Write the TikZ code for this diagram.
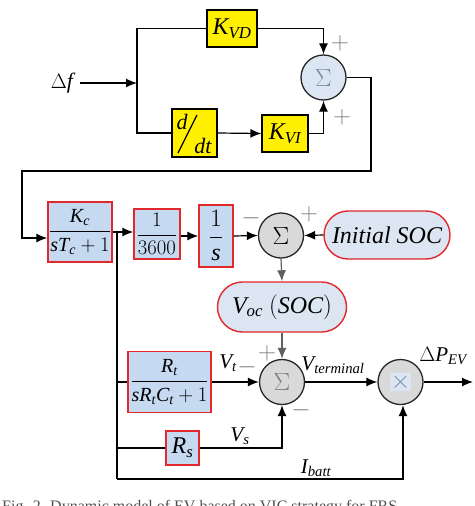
\documentclass[tikz,border=0pt]{standalone}
\usepackage{amsmath}
\usepackage{fontspec}
\setmainfont{Liberation Serif}
\DeclareSymbolFont{tletters}{TU}{\rmdefault}{m}{it}
\DeclareSymbolFont{tdigits}{TU}{\rmdefault}{m}{n}
\makeatletter
\@tfor\mych:=abcdefghijklmnopqrstuvwxyzABCDEFGHIJKLMNOPQRSTUVWXYZ\do{%
  \edef\mydo{\noexpand\DeclareMathSymbol{\mych}{\noexpand\mathalpha}{tletters}{`\mych}}\mydo}
\@tfor\mych:=0123456789\do{%
  \edef\mydo{\noexpand\DeclareMathSymbol{\mych}{\noexpand\mathalpha}{tdigits}{`\mych}}\mydo}
\makeatother
\usetikzlibrary{arrows.meta,shapes.misc}
\definecolor{ylw}{RGB}{255,240,0}
\definecolor{bfill}{RGB}{197,217,241}
\definecolor{rbord}{RGB}{224,40,45}
\definecolor{lblue}{RGB}{220,230,242}
\definecolor{cgrey}{RGB}{217,217,217}
\definecolor{sgn}{RGB}{125,125,125}
\definecolor{sigblue}{RGB}{120,140,170}
\definecolor{arrgrey}{RGB}{95,95,95}
\definecolor{capgrey}{RGB}{80,80,80}
\begin{document}
\begin{tikzpicture}[x=1pt,y=-1pt,
  >={Latex[length=11pt,width=9pt]},
  conn/.style={draw=black,line width=1.2pt},
  gconn/.style={draw=arrgrey,line width=1.2pt},
  ybox/.style={draw=black,line width=1.1pt,fill=ylw,inner sep=0pt,font=\fontsize{24}{28}\selectfont},
  bbox/.style={draw=rbord,line width=1.4pt,fill=bfill,inner sep=0pt,font=\fontsize{20}{24}\selectfont},
  term/.style={rounded rectangle,draw=rbord,line width=1.4pt,fill=lblue,inner sep=0pt,font=\fontsize{24}{28}\selectfont},
  sumc/.style={circle,draw=black!85,line width=1.3pt,minimum size=45pt,inner sep=0pt,font=\fontsize{26}{30}\selectfont},
  lbl/.style={inner sep=0pt,font=\fontsize{21}{25}\selectfont},
  sgnl/.style={inner sep=0pt,text=sgn,font=\fontsize{24}{28}\selectfont},
]
\useasboundingbox (0,0) rectangle (474,506);
\begin{scope}
\clip (0,0) rectangle (474,506);
% ---------- top part ----------
\node[ybox,minimum width=50pt,minimum height=37pt] (kvd) at (232,28.5) {$K_{VD}$};
\node[ybox,minimum width=45pt,minimum height=48pt] (ddt) at (194.5,133) {};
\node[inner sep=0pt,font=\fontsize{22}{26}\selectfont] (dtop) at (182,122) {$d$};
\node[inner sep=0pt,font=\fontsize{22}{26}\selectfont] (dbot) at (203,146) {$dt$};
\draw[line width=1.3pt] (178,153) -- (197,115);
\node[ybox,minimum width=46pt,minimum height=37pt] (kvi) at (285,133.5) {$K_{VI}$};
\node[sumc,fill=lblue,text=sigblue] (s1) at (323.5,77.5) {$\Sigma$};
\node[lbl,font=\fontsize{22}{26}\selectfont] (df) at (62,83) {$\Delta f$};
\coordinate (din) at (80,83);
\coordinate (jf) at (137,83);
\coordinate (r1) at (371,171);
\coordinate (l1) at (22,171);
\coordinate (l2) at (22,238);
\node[sgnl] (p1) at (340,43) {$+$};
\node[sgnl] (p2) at (342,117) {$+$};
\draw[conn,->] (din) -- (jf);
\draw[conn] (kvd.west) -| (jf) |- (ddt.west);
\draw[conn,->] (kvd.east) -| (s1.north);
\draw[conn,->] (ddt.east) -- (kvi.west);
\draw[conn,->] (kvi.east) -| (s1.south);
% ---------- middle part ----------
\node[bbox,minimum width=64pt,minimum height=60pt] (kc) at (80,232) {$\dfrac{K_c}{sT_c+1}$};
\node[bbox,minimum width=46pt,minimum height=50pt] (k36) at (157,234) {$\dfrac{1}{3600}$};
\node[bbox,minimum width=34pt,minimum height=62pt,font=\fontsize{24}{28}\selectfont] (ins) at (216,236) {$\dfrac{1}{s}$};
\node[sumc,fill=cgrey,text=black] (s2) at (281,235.5) {$\Sigma$};
\node[term,minimum width=126pt,minimum height=48pt] (isoc) at (387,235) {\itshape Initial SOC};
\node[term,minimum width=129pt,minimum height=50pt] (voc) at (282,307) {$V_{oc}\ (SOC)$};
\node[sgnl] (m0) at (251,218) {$-$};
\node[sgnl] (p0) at (309,214) {$+$};
\draw[conn,->] (s1.east) -| (r1) -- (l1) -- (l2) -- (l2 -| kc.west);
\draw[conn,->] (kc.east) -- (kc.east -| k36.west);
\draw[conn,->] (k36.east |- ins.west) -- (ins.west);
\draw[conn,->] (ins.east) -- (s2.west);
\draw[conn,->] (isoc.west) -- (s2.east);
\draw[gconn,->] (s2.south) -- (voc.north);
% ---------- bottom part ----------
\node[bbox,minimum width=83pt,minimum height=61pt] (rt) at (169.5,382) {$\dfrac{R_t}{sR_tC_t+1}$};
\node[sumc,fill=cgrey,text=sgn] (s3) at (282,382) {$\Sigma$};
\node[sumc,fill=cgrey,font=\fontsize{24}{28}\selectfont] (mul) at (400.5,382) {\setlength{\fboxsep}{1pt}\colorbox{lblue}{\color{sigblue}$\times$}};
\node[bbox,minimum width=33pt,minimum height=34pt,font=\fontsize{24}{28}\selectfont] (rs) at (182.5,448) {$R_s$};
\coordinate (b1) at (117,232);
\coordinate (bl) at (117,479);
\coordinate (pout) at (473,382);
\draw[gconn,->] (voc.south) -- (s3.north);
\draw[conn] (b1) -- (bl);
\draw[conn,->] (bl) -| ([xshift=2.5pt]mul.south);
\draw[conn] (bl |- rt.west) -- (rt.west);
\draw[conn,->] (rt.east) -- (s3.west);
\draw[conn] (bl |- rs.west) -- (rs.west);
\draw[conn,->] (rs.east) -| (s3.south);
\draw[conn,->] (s3.east) -- (mul.west);
\draw[conn,->] (mul.east) -- (pout);
\node[lbl] (vt) at (228,363) {$V_t$};
\node[sgnl] (m1) at (247,367) {$-$};
\node[sgnl] (p3) at (267,353) {$+$};
\node[sgnl] (m2) at (301,410) {$-$};
\node[lbl] (vs) at (240,436) {$V_s$};
\node[lbl] (ib) at (316,468) {$I_{batt}$};
\node[lbl] (vterm) at (333,365) {$V_{terminal}$};
\node[lbl] (dp) at (443,356) {$\Delta P_{EV}$};
% ---------- caption (cut off as in the reference) ----------
\node[anchor=base west,inner sep=0pt,text=capgrey,font=\fontsize{16}{19}\selectfont] (cap) at (2,511) {Fig. 2. Dynamic model of EV based on VIC strategy for FRS};
\end{scope}
\end{tikzpicture}
\end{document}
